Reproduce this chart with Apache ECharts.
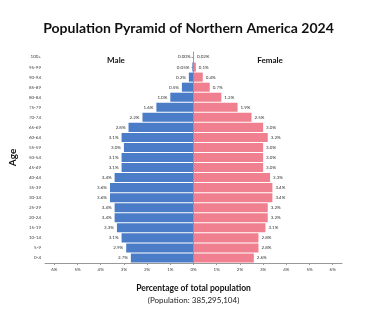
<!DOCTYPE html>
<html>
<head>
<meta charset="utf-8">
<script src="https://cdn.jsdelivr.net/npm/echarts@6/dist/echarts.min.js"></script>
<style>
  html, body { margin: 0; padding: 0; background: #fff; }
  #chart { width: 377px; height: 320px; }
</style>
</head>
<body>
<div id="chart"></div>
<script>
// age groups, bottom to top
let ageGroups = ["0-4", "5-9", "10-14", "15-19", "20-24", "25-29", "30-34", "35-39", "40-44", "45-49",
  "50-54", "55-59", "60-64", "65-69", "70-74", "75-79", "80-84", "85-89", "90-94", "95-99", "100+"];
let malePct = [2.7, 2.9, 3.1, 3.3, 3.4, 3.4, 3.6, 3.6, 3.4, 3.1, 3.1, 3.0, 3.1, 2.8, 2.2, 1.6, 1.0, 0.5, 0.2, 0.05, 0.0];
let femalePct = [2.6, 2.8, 2.8, 3.1, 3.2, 3.2, 3.4, 3.4, 3.3, 3.0, 3.0, 3.0, 3.2, 3.0, 2.5, 1.9, 1.2, 0.7, 0.4, 0.1, 0.02];
let xTicks = [-6, -5, -4, -3, -2, -1, 0, 1, 2, 3, 4, 5, 6];

let fmt = (v) => {
  v = Math.abs(v);
  return (v < 0.1 ? v.toFixed(2) : v.toFixed(1)) + "%";
};

let chart = echarts.init(document.getElementById("chart"));
let font = "Lato, 'DejaVu Sans', sans-serif";

let option = {
  animation: false,
  textStyle: { fontFamily: font },
  title: [
    {
      text: "Population Pyramid of Northern America 2024",
      left: "center",
      top: 16,
      textStyle: { fontSize: 14, fontWeight: "bold", color: "#111", fontFamily: font },
    },
    {
      text: "Male",
      left: 111,
      top: 51,
      textAlign: "center",
      textStyle: { fontSize: 8, fontWeight: "bold", color: "#111" },
    },
    {
      text: "Female",
      left: 265,
      top: 51,
      textAlign: "center",
      textStyle: { fontSize: 8, fontWeight: "bold", color: "#111" },
    },
  ],
  grid: { left: 35, right: 35, top: 52, bottom: 57 },
  xAxis: {
    type: "value",
    min: -6.4,
    max: 6.4,
    name: "{b|Percentage of total population}\n{n|(Population: 385,295,104)}",
    nameLocation: "middle",
    nameGap: 19,
    nameTextStyle: {
      rich: {
        b: { fontSize: 8.5, fontWeight: "bold", color: "#111", lineHeight: 12 },
        n: { fontSize: 8, color: "#222", lineHeight: 12 },
      },
    },
    axisLine: { show: true, lineStyle: { color: "#999", width: 1 } },
    axisTick: { show: true, length: 2, customValues: xTicks, lineStyle: { color: "#999" } },
    axisLabel: {
      customValues: xTicks,
      fontSize: 4.5,
      color: "#444",
      margin: 4,
      formatter: (v) => Math.abs(v) + "%",
    },
    splitLine: { show: false },
  },
  yAxis: {
    type: "category",
    data: ageGroups,
    name: "Age",
    nameLocation: "middle",
    nameRotate: 90,
    nameGap: 22,
    nameTextStyle: { fontSize: 10, fontWeight: "bold", color: "#111" },
    axisLine: { show: true, lineStyle: { color: "#999", width: 1 } },
    axisTick: { show: true, length: 2, alignWithLabel: true, lineStyle: { color: "#999" } },
    axisLabel: { fontSize: 4.5, color: "#444", margin: 4, interval: 0 },
  },
  series: [
    {
      name: "Male",
      type: "bar",
      stack: "pop",
      barCategoryGap: "10%",
      data: malePct.map((v) => -v),
      itemStyle: { color: "#4a7cc7" },
      label: {
        show: true,
        position: "left",
        distance: 3,
        fontSize: 4.5,
        color: "#333",
        formatter: (p) => fmt(p.value),
      },
    },
    {
      name: "Female",
      type: "bar",
      stack: "pop",
      barCategoryGap: "10%",
      data: femalePct,
      itemStyle: { color: "#f0808f" },
      label: {
        show: true,
        position: "right",
        distance: 3,
        fontSize: 4.5,
        color: "#333",
        formatter: (p) => fmt(p.value),
      },
    },
  ],
};

chart.setOption(option);
</script>
</body>
</html>
